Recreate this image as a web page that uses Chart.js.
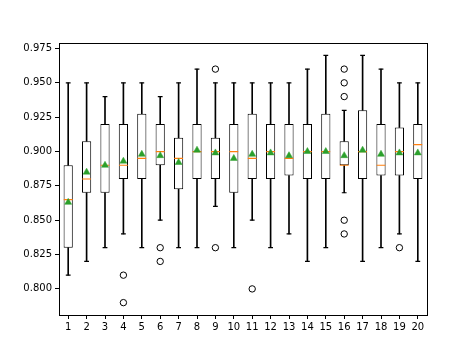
<!DOCTYPE html>
<html>
<head>
<meta charset="utf-8">
<script src="https://cdn.jsdelivr.net/npm/chart.js@4/dist/chart.umd.min.js"></script>
<style>
  html, body { margin: 0; padding: 0; background: #fff; }
  #wrap { width: 474px; height: 355px; position: relative; }
</style>
</head>
<body>
<div id="wrap"><canvas id="c"></canvas></div>
<script>
// ---- data ----
const categories = ['1','2','3','4','5','6','7','8','9','10','11','12','13','14','15','16','17','18','19','20'];
const whiskerHigh = [0.950,0.950,0.940,0.950,0.950,0.940,0.950,0.960,0.950,0.950,0.950,0.950,0.950,0.960,0.970,0.930,0.970,0.960,0.950,0.950];
const q3 =          [0.890,0.9075,0.920,0.920,0.9275,0.920,0.910,0.920,0.910,0.920,0.9275,0.920,0.920,0.920,0.9275,0.9075,0.930,0.920,0.9175,0.920];
const medians =     [0.865,0.880,0.890,0.890,0.895,0.900,0.895,0.900,0.900,0.900,0.895,0.900,0.895,0.900,0.900,0.890,0.900,0.890,0.900,0.905];
const q1 =          [0.830,0.870,0.870,0.880,0.880,0.890,0.8725,0.880,0.880,0.870,0.880,0.880,0.8825,0.880,0.880,0.890,0.880,0.8825,0.8825,0.880];
const whiskerLow =  [0.810,0.820,0.830,0.840,0.830,0.850,0.830,0.830,0.860,0.830,0.850,0.830,0.840,0.820,0.830,0.870,0.820,0.830,0.840,0.820];
const means =       [0.863,0.885,0.890,0.893,0.898,0.897,0.892,0.901,0.899,0.895,0.898,0.899,0.897,0.900,0.900,0.897,0.901,0.898,0.899,0.899];
const outlierCats = ['4','4','6','6','9','9','11','16','16','16','16','16','19'];
const outlierVals = [0.810,0.790,0.830,0.820,0.960,0.830,0.800,0.960,0.950,0.940,0.850,0.840,0.830];
const yTicks = [0.800,0.825,0.850,0.875,0.900,0.925,0.950,0.975];
const yMin = 0.781, yMax = 0.979;

const frame = {
  id: 'frame',
  afterDraw(chart) {
    const a = chart.chartArea, ctx = chart.ctx;
    ctx.save();
    ctx.strokeStyle = '#000';
    ctx.lineWidth = 1;
    const l = Math.round(a.left) + 0.5, t = Math.round(a.top) + 0.5;
    const r = Math.round(a.right) + 0.5, b = Math.round(a.bottom) + 0.5;
    ctx.strokeRect(l, t, r - l, b - t);
    ctx.restore();
  }
};

const font = { family: 'DejaVu Sans', size: 10 };

new Chart(document.getElementById('c'), {
  type: 'bar',
  data: {
    labels: categories,
    datasets: [
      { type: 'bar', data: q3.map((v, i) => [v, whiskerHigh[i]]), backgroundColor: '#000', barThickness: 1, grouped: false, order: 10 },
      { type: 'bar', data: q1.map((v, i) => [whiskerLow[i], v]), backgroundColor: '#000', barThickness: 1, grouped: false, order: 10 },
      { type: 'bar', data: q1.map((v, i) => [v, q3[i]]), backgroundColor: '#fff', borderColor: '#000', borderWidth: 1, borderSkipped: false,
        barPercentage: 0.5, categoryPercentage: 1, grouped: false, order: 8 },
      { type: 'line', data: whiskerHigh, showLine: false, pointStyle: 'line', pointRadius: 2.4, borderColor: '#000', pointBorderWidth: 1.2, order: 6 },
      { type: 'line', data: whiskerLow, showLine: false, pointStyle: 'line', pointRadius: 2.4, borderColor: '#000', pointBorderWidth: 1.2, order: 6 },
      { type: 'line', data: medians, showLine: false, pointStyle: 'line', pointRadius: 4.4, borderColor: '#ff7f0e', pointBorderWidth: 1.2, order: 4 },
      { type: 'line', data: means, showLine: false, pointStyle: 'triangle', pointRadius: 4, backgroundColor: '#2ca02c', borderColor: '#2ca02c', pointBorderWidth: 0.5, order: 2 },
      { type: 'line', data: outlierCats.map((c, i) => ({ x: c, y: outlierVals[i] })), showLine: false, pointStyle: 'circle', pointRadius: 3.2,
        backgroundColor: 'rgba(0,0,0,0)', borderColor: '#000', pointBorderWidth: 1, order: 1 }
    ]
  },
  options: {
    responsive: true,
    maintainAspectRatio: false,
    animation: false,
    events: [],
    layout: { padding: { top: 43, right: 47, left: 0, bottom: 0 } },
    plugins: { legend: { display: false }, tooltip: { enabled: false } },
    scales: {
      x: {
        type: 'category',
        offset: true,
        grid: { display: true, offset: false, drawOnChartArea: false, drawTicks: true, tickLength: 4, tickColor: '#000', tickWidth: 1 },
        border: { display: true, color: '#000', width: 1 },
        ticks: { color: '#000', font: font, padding: 2, maxRotation: 0, autoSkip: false },
        afterFit(s) { s.height = 40; }
      },
      y: {
        min: yMin, max: yMax,
        afterBuildTicks(s) { s.ticks = yTicks.map(v => ({ value: v })); },
        grid: { display: true, drawOnChartArea: false, drawTicks: true, tickLength: 4, tickColor: '#000', tickWidth: 1 },
        border: { display: true, color: '#000', width: 1 },
        ticks: { color: '#000', font: font, padding: 3, callback: v => Number(v).toFixed(3) },
        afterFit(s) { s.width = 59; }
      }
    }
  },
  plugins: [frame]
});
</script>
</body>
</html>
